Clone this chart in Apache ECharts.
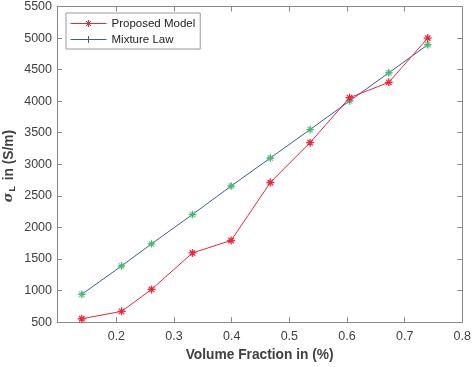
<!DOCTYPE html>
<html>
<head>
<meta charset="utf-8">
<script src="https://cdn.jsdelivr.net/npm/echarts@6/dist/echarts.min.js"></script>
<style>html,body{margin:0;padding:0;background:#fff;}#c{width:474px;height:367px;}</style>
</head>
<body>
<div id="c"></div>
<script>
// Data
const volumeFraction = [0.14, 0.209, 0.261, 0.332, 0.399, 0.467, 0.536, 0.6045, 0.6725, 0.74];
const proposedModel = [553, 670, 1018, 1596, 1793, 2712, 3343, 4056, 4298, 5000];
const mixtureLaw = [940, 1390, 1740, 2205, 2655, 3100, 3550, 4004, 4449, 4894];
const xTicks = [0.2, 0.3, 0.4, 0.5, 0.6, 0.7, 0.8];

const RED = '#e8283c';
const BLUE = '#3c5aa6';
const GREEN = '#4fc26a';
const AXIS = '#8a8a8a';
const TEXT = '#404040';
const FONT = 'Liberation Sans, Arial, sans-serif';

const STAR = 'path://M5,0L5,10M0,5L10,5M1.6,1.6L8.4,8.4M8.4,1.6L1.6,8.4';
const PLUS = 'path://M5,0L5,10M0,5L10,5';
// legend icons: line across the 36x12 box with the marker in the middle
const LEG_STAR = 'path://M0,0M36,12M0,6L36,6M18,2.5L18,9.5M14.5,6L21.5,6M15.5,3.5L20.5,8.5M20.5,3.5L15.5,8.5';
const LEG_PLUS = 'path://M0,0M36,12M0,6L36,6M18,2.5L18,9.5M14.5,6L21.5,6';

const toPairs = (xs, ys) => xs.map((x, i) => [x, ys[i]]);

const chart = echarts.init(document.getElementById('c'), null, {renderer: 'canvas'});
const axisCommon = {
  axisLine: {show: true, lineStyle: {color: AXIS, width: 1}},
  splitLine: {show: false}
};
chart.setOption({
  animation: false,
  backgroundColor: '#fff',
  grid: {left: 57, right: 8, top: 5, bottom: 40, containLabel: false},
  xAxis: [
    Object.assign({}, axisCommon, {
      type: 'value', position: 'bottom', min: 0.097, max: 0.8,
      axisTick: {show: true, inside: true, length: 5, lineStyle: {color: AXIS}, customValues: xTicks},
      axisLabel: {show: true, color: TEXT, fontFamily: FONT, fontSize: 12.5, margin: 8,
        customValues: xTicks, formatter: v => (+v).toFixed(1)},
      name: 'Volume Fraction in (%)', nameLocation: 'middle', nameGap: 25,
      nameTextStyle: {color: TEXT, fontFamily: FONT, fontSize: 13.75, fontWeight: 'bold'}
    }),
    Object.assign({}, axisCommon, {
      type: 'value', position: 'top', min: 0.097, max: 0.8,
      axisTick: {show: true, inside: true, length: 5, lineStyle: {color: AXIS}, customValues: xTicks},
      axisLabel: {show: false}
    })
  ],
  yAxis: [
    Object.assign({}, axisCommon, {
      type: 'value', position: 'left', min: 500, max: 5500, interval: 500,
      axisTick: {show: true, inside: true, length: 5, lineStyle: {color: AXIS}},
      axisLabel: {show: true, color: TEXT, fontFamily: FONT, fontSize: 12.5, margin: 5,
        formatter: v => String(Math.round(v))}
    }),
    Object.assign({}, axisCommon, {
      type: 'value', position: 'right', min: 500, max: 5500, interval: 500,
      axisTick: {show: true, inside: true, length: 5, lineStyle: {color: AXIS}},
      axisLabel: {show: false}
    })
  ],
  legend: {
    orient: 'vertical', left: 66, top: 13,
    padding: [4, 5, 3, 4], itemGap: 3,
    itemWidth: 36, itemHeight: 12,
    borderColor: '#9a9a9a', borderWidth: 1, backgroundColor: '#fff',
    textStyle: {color: '#222', fontFamily: FONT, fontSize: 11.5},
    data: [
      {name: 'Proposed Model', icon: LEG_STAR, itemStyle: {borderWidth: 1, borderColor: RED, color: RED}},
      {name: 'Mixture Law', icon: LEG_PLUS, itemStyle: {borderWidth: 1, borderColor: BLUE, color: BLUE}}
    ]
  },
  graphic: [{
    type: 'text', x: 9, y: 166, rotation: Math.PI / 2,
    style: {
      text: '{s|σ}{sub|L}{t| in (S/m)}',
      align: 'center', verticalAlign: 'middle',
      rich: {
        s: {fontFamily: 'DejaVu Serif', fontStyle: 'italic', fontWeight: 'bold', fontSize: 13, fill: TEXT, verticalAlign: 'middle'},
        sub: {fontFamily: FONT, fontWeight: 'bold', fontSize: 9, fill: TEXT, padding: [8, 2, 0, 1]},
        t: {fontFamily: FONT, fontWeight: 'bold', fontSize: 13.75, fill: TEXT}
      }
    }
  }],
  series: [
    {
      name: 'Mixture Law', type: 'line', xAxisIndex: 0, yAxisIndex: 0,
      data: toPairs(volumeFraction, mixtureLaw),
      symbol: PLUS, symbolSize: 6,
      lineStyle: {color: BLUE, width: 1},
      itemStyle: {color: BLUE, borderColor: BLUE, borderWidth: 1},
      emphasis: {disabled: true}, z: 2
    },
    {
      name: 'Mixture Law markers', type: 'scatter', xAxisIndex: 0, yAxisIndex: 0,
      data: toPairs(volumeFraction, mixtureLaw),
      symbol: STAR, symbolSize: 8,
      itemStyle: {color: GREEN, borderColor: GREEN, borderWidth: 1.3},
      emphasis: {disabled: true}, z: 3
    },
    {
      name: 'Proposed Model', type: 'line', xAxisIndex: 0, yAxisIndex: 0,
      data: toPairs(volumeFraction, proposedModel),
      symbol: STAR, symbolSize: 8,
      lineStyle: {color: RED, width: 1},
      itemStyle: {color: RED, borderColor: RED, borderWidth: 1.3},
      emphasis: {disabled: true}, z: 4
    }
  ]
});
</script>
</body>
</html>
